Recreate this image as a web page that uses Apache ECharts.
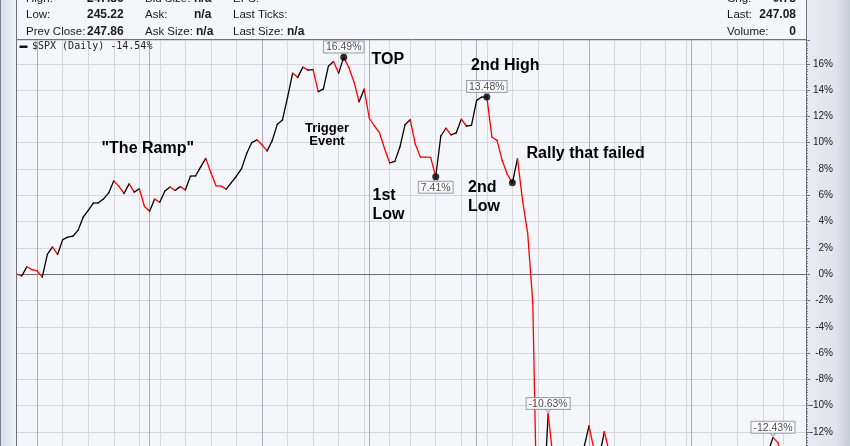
<!DOCTYPE html>
<html>
<head>
<meta charset="utf-8">
<script src="https://cdn.jsdelivr.net/npm/echarts@6/dist/echarts.min.js"></script>
<style>
html,body{margin:0;padding:0;background:#f5f6fa;}
#c{width:850px;height:446px;}
</style>
</head>
<body>
<div id="c"></div>
<script>
// $SPX daily close, % change from the first bar (trading-day index = x)
const pctChange = [
  0.00, -0.13, 0.57, 0.34, 0.25, -0.22, 1.51, 2.07, 1.50, 2.63,
  2.82, 2.89, 3.33, 4.33, 4.85, 5.41, 5.43, 5.73, 6.18, 7.10,
  6.68, 6.14, 6.87, 6.24, 6.50, 5.15, 4.78, 5.71, 5.47, 6.33,
  6.63, 6.37, 6.66, 6.41, 7.46, 7.47, 8.16, 8.81, 7.71, 6.72,
  6.70, 6.47, 6.97, 7.45, 8.03, 9.18, 10.01, 10.22, 9.84, 9.38,
  10.15, 11.41, 11.72, 13.45, 15.29, 14.97, 15.75, 15.52, 15.56, 13.88,
  14.08, 15.82, 16.18, 15.29, 16.49, 15.72, 14.62, 13.12, 14.07, 11.86,
  11.27, 10.76, 9.54, 8.46, 8.58, 9.69, 11.37, 11.75, 9.90, 8.91,
  8.90, 8.89, 7.41, 10.51, 11.10, 10.59, 10.74, 11.79, 11.27, 11.32,
  13.22, 13.47, 13.48, 10.41, 10.18, 8.66, 7.60, 6.95, 8.79, 5.58,
  3.10, -2.22, -22.23, -18.08, -10.63, -14.13, -14.14, -21.25, -19.34, -19.31,
  -15.34, -13.20, -11.54, -13.40, -13.89, -11.98, -13.60, -15.89, -17.33, -16.33,
  -14.04, -15.04, -14.65, -15.94, -15.07, -18.17, -16.97, -16.30, -14.78, -15.57,
  -16.87, -20.34, -19.75, -19.25, -22.10, -22.55, -20.87, -18.75, -17.37, -19.21,
  -18.61, -16.23, -16.01, -14.19, -15.96, -13.82, -13.69, -13.55, -12.43, -12.83,
  -15.06, -15.40, -14.27, -14.54
];
// first trading day of each month / of each week (trading-day index)
const monthStarts = [4, 26, 48, 69, 90, 112, 132];
const weekStarts = [9, 14, 19, 24, 28, 33, 38, 43, 53, 58, 63, 68, 73, 77, 82, 87, 92, 97, 102, 107, 117, 122, 127, 131, 136, 141, 146, 150];
// marked points
const dotIdx = [64, 82, 92, 97];
const calloutAboveIdx = [64, 92, 104, 148];
const calloutBelowIdx = [82];
// header quote fields
const headerLeft = [
  ["High:", "247.86", "Bid Size:", "n/a", "EPS:", ""],
  ["Low:", "245.22", "Ask:", "n/a", "Last Ticks:", ""],
  ["Prev Close:", "247.86", "Ask Size:", "n/a", "Last Size:", "n/a"]
];
const headerRight = [["Chg:", "-0.78"], ["Last:", "247.08"], ["Volume:", "0"]];
const annotations = [
  {text: '"The Ramp"', x: 101.5, y: 148.5, size: 16},
  {text: 'TOP', x: 371.5, y: 60, size: 16},
  {text: '2nd High', x: 471, y: 66, size: 16},
  {text: 'Rally that failed', x: 526.5, y: 153.5, size: 16},
  {text: '1st', x: 372.5, y: 195.5, size: 16},
  {text: 'Low', x: 372.5, y: 214.5, size: 16},
  {text: '2nd', x: 468, y: 188, size: 16},
  {text: 'Low', x: 468, y: 207, size: 16},
  {text: 'Trigger', x: 327, y: 128.5, size: 13, center: true},
  {text: 'Event', x: 327, y: 141.5, size: 13, center: true}
];

const SANS = '"Liberation Sans", Arial, sans-serif';
const chart = echarts.init(document.getElementById('c'), null, {renderer: 'canvas'});

const segs = [];
for (let i = 0; i < pctChange.length - 1; i++) segs.push([i, pctChange[i], pctChange[i + 1], i + 1]);

const graphics = [];
// left strip
graphics.push({type: 'rect', z: -1, shape: {x: 0, y: 0, width: 16, height: 446},
  style: {fill: new echarts.graphic.LinearGradient(0, 0, 1, 0, [{offset: 0, color: '#d8dde8'}, {offset: 1, color: '#eef1f7'}])}});
graphics.push({type: 'line', z: 30, shape: {x1: 0.5, y1: 0, x2: 0.5, y2: 446}, style: {stroke: '#7c8090', lineWidth: 1}});
graphics.push({type: 'line', z: 30, shape: {x1: 16.5, y1: 0, x2: 16.5, y2: 446}, style: {stroke: '#6e7280', lineWidth: 1}});
// right panel
graphics.push({type: 'rect', z: -1, shape: {x: 806, y: 0, width: 44, height: 446},
  style: {fill: new echarts.graphic.LinearGradient(0, 0, 1, 0, [{offset: 0, color: '#e8ebf1'}, {offset: 0.7, color: '#e0e3ea'}, {offset: 1, color: '#c5cad4'}])}});
graphics.push({type: 'line', z: 30, shape: {x1: 806.5, y1: 0, x2: 806.5, y2: 446}, style: {stroke: '#6e7280', lineWidth: 1}});
// header panel
graphics.push({type: 'rect', z: 20, shape: {x: 16.5, y: -1, width: 790, height: 40.5},
  style: {fill: '#f5f6fa', stroke: '#6e7280', lineWidth: 1}});
const rowY = [-1.5, 14.5, 31.5];
headerLeft.forEach((r, k) => {
  const cols = [[26, r[0], false], [87, r[1], true], [145, r[2], false], [k === 2 ? 196 : 194, r[3], true], [233, r[4], false], [287, r[5], true]];
  cols.forEach(c => {
    if (!c[1]) return;
    graphics.push({type: 'text', z: 21, style: {text: c[1], x: c[0], y: rowY[k],
      font: (c[2] ? 'bold 12px ' : '11.5px ') + SANS, fill: '#1a1a1a', align: 'left', verticalAlign: 'middle'}});
  });
});
headerRight.forEach((r, k) => {
  graphics.push({type: 'text', z: 21, style: {text: r[0], x: 727, y: rowY[k], font: '11.5px ' + SANS, fill: '#1a1a1a', align: 'left', verticalAlign: 'middle'}});
  graphics.push({type: 'text', z: 21, style: {text: r[1], x: 796, y: rowY[k], font: 'bold 12px ' + SANS, fill: '#1a1a1a', align: 'right', verticalAlign: 'middle'}});
});
// legend
graphics.push({type: 'rect', z: 21, shape: {x: 19.5, y: 45.5, width: 8, height: 2.5}, style: {fill: '#111'}});
graphics.push({type: 'text', z: 21, style: {text: '$SPX (Daily) ' + pctChange[pctChange.length - 1].toFixed(2) + '%',
  x: 32, y: 46.5, font: '10px "DejaVu Sans Mono", monospace', fill: '#222', align: 'left', verticalAlign: 'middle'}});
// annotations
annotations.forEach(a => {
  graphics.push({type: 'text', z: 21, style: {text: a.text, x: a.x, y: a.y, font: 'bold ' + a.size + 'px ' + SANS,
    fill: '#000', align: a.center ? 'center' : 'left', verticalAlign: 'middle'}});
});

const calloutLabel = {
  show: true, formatter: p => p.value[1].toFixed(2) + '%',
  fontSize: 10.5, fontFamily: SANS, color: '#222', backgroundColor: '#fff',
  borderColor: '#8c8c9c', borderWidth: 1, padding: [1, 2, 0, 2], lineHeight: 10
};

const gridLineData = [];
weekStarts.forEach(i => gridLineData.push({xAxis: i, lineStyle: {color: '#d5d8df', width: 1, type: 'solid'}}));
monthStarts.forEach(i => gridLineData.push({xAxis: i, lineStyle: {color: '#abafb9', width: 1, type: 'solid'}}));
gridLineData.push({yAxis: 0, lineStyle: {color: '#6c6e7e', width: 1, type: 'solid'}});

chart.setOption({
  animation: false,
  backgroundColor: '#f5f6fa',
  grid: {left: 16, right: 44, top: 40, bottom: -12.3, show: true, backgroundColor: '#f5f6fa', borderWidth: 0, containLabel: false, outerBoundsMode: 'none'},
  xAxis: {type: 'value', min: -0.137, max: 154.46, show: false, splitLine: {show: false}, axisLine: {onZero: false}},
  yAxis: {
    type: 'value', position: 'right', min: -14, max: 17.81, interval: 2,
    axisLine: {show: true, onZero: false, lineStyle: {color: '#6e7280', width: 1}},
    axisTick: {show: true, length: 4, lineStyle: {color: '#6e7280'}},
    minorTick: {show: true, splitNumber: 10, length: 2, lineStyle: {color: '#7d8190'}},
    axisLabel: {show: true, margin: 27, align: 'right', formatter: v => v + '%', color: '#222', fontSize: 10, fontFamily: SANS, showMaxLabel: false, showMinLabel: false},
    splitLine: {show: true, lineStyle: {color: '#d5d8df', width: 1}},
    minorSplitLine: {show: false}
  },
  graphic: graphics,
  series: [
    {type: 'line', data: [[0, 0]], symbol: 'none', lineStyle: {opacity: 0}, silent: true, z: 1,
      markLine: {silent: true, symbol: ['none', 'none'], animation: false, label: {show: false}, emphasis: {disabled: true}, data: gridLineData}},
    {type: 'custom', z: 5, silent: true, encode: {x: 0, y: 1}, data: segs,
      renderItem: function (params, api) {
        const a = api.coord([api.value(0), api.value(1)]);
        const b = api.coord([api.value(3), api.value(2)]);
        const up = api.value(2) >= api.value(1);
        return {type: 'line', shape: {x1: a[0], y1: a[1], x2: b[0], y2: b[1]},
          style: {stroke: up ? '#000000' : '#ff0000', lineWidth: 1.3, lineCap: 'round'}};
      }},
    {type: 'scatter', z: 8, silent: true, symbol: 'path://M0,0L10,0L5,6Z', symbolSize: [7, 4], symbolOffset: [0, -3.5],
      itemStyle: {color: '#fff', borderColor: '#8c8c9c', borderWidth: 1},
      label: Object.assign({position: 'top', distance: -1}, calloutLabel),
      data: calloutAboveIdx.map(i => [i, pctChange[i]])},
    {type: 'scatter', z: 8, silent: true, symbol: 'path://M5,0L10,6L0,6Z', symbolSize: [7, 4], symbolOffset: [0, 3.5],
      itemStyle: {color: '#fff', borderColor: '#8c8c9c', borderWidth: 1},
      label: Object.assign({position: 'bottom', distance: -1}, calloutLabel),
      data: calloutBelowIdx.map(i => [i, pctChange[i]])},
    {type: 'scatter', z: 9, silent: true, symbol: 'circle', symbolSize: 7, itemStyle: {color: '#000'},
      data: dotIdx.map(i => [i, pctChange[i]])}
  ]
});
</script>
</body>
</html>
